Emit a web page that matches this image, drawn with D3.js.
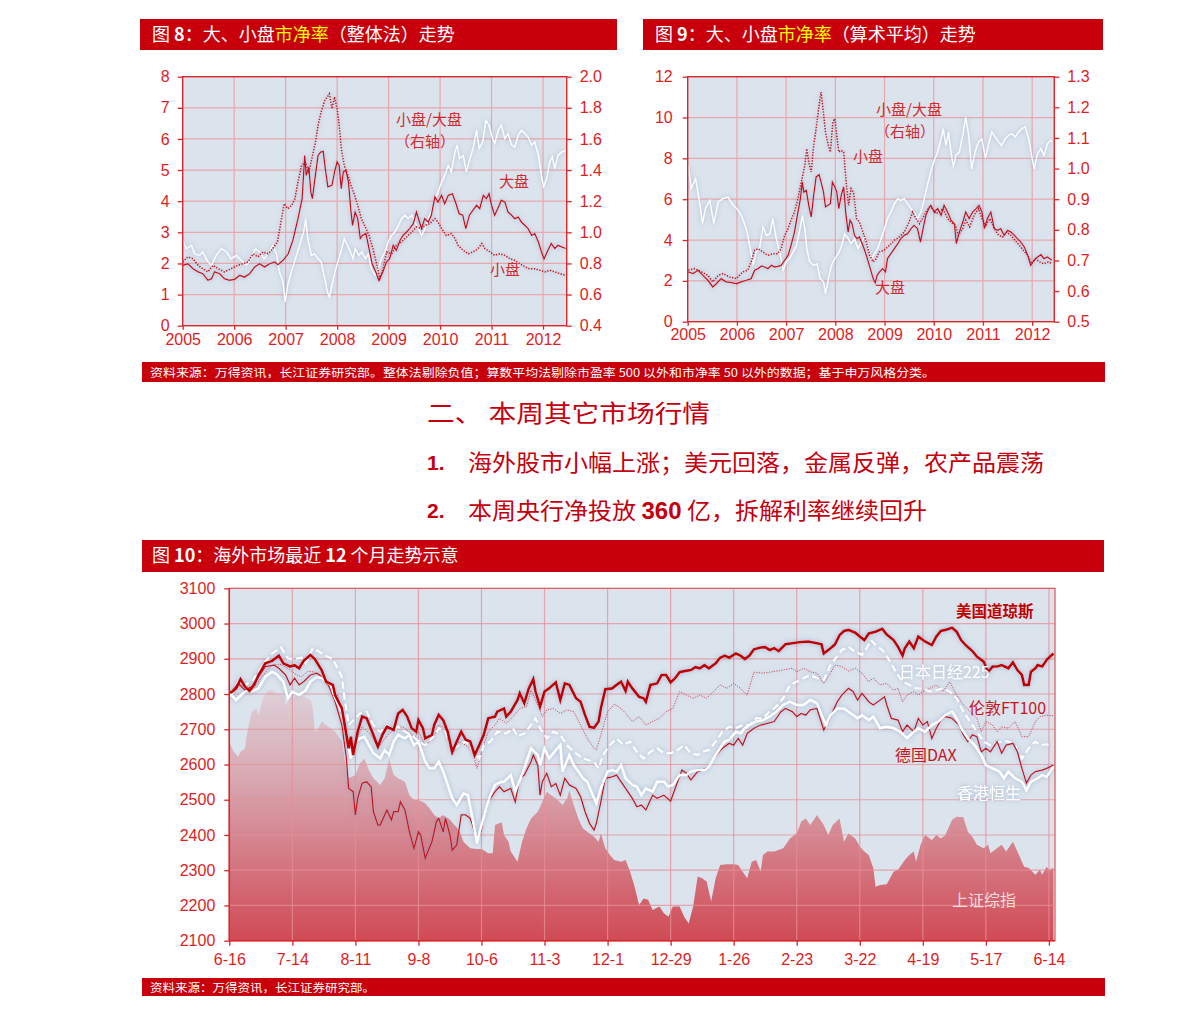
<!DOCTYPE html>
<html><head><meta charset="utf-8">
<script src="https://cdn.jsdelivr.net/npm/d3@7"></script>
<style>
html,body{margin:0;padding:0;background:#fff;}
svg{display:block;}
</style></head>
<body>
<div id="chart"></div>
<script>
// ================= DATA =================
const years = [2005, 2006, 2007, 2008, 2009, 2010, 2011, 2012];
const pbWholeLeftTicks = [0, 1, 2, 3, 4, 5, 6, 7, 8];
const pbWholeRightTicks = [0.4, 0.6, 0.8, 1.0, 1.2, 1.4, 1.6, 1.8, 2.0];
const pbMeanLeftTicks = [0, 2, 4, 6, 8, 10, 12];
const pbMeanRightTicks = [0.5, 0.6, 0.7, 0.8, 0.9, 1.0, 1.1, 1.2, 1.3];

// 图8 整体法: 大盘, 小盘 (左轴), 小盘/大盘 (右轴)
const pbWholeBig = [[2005.00,1.94],[2005.10,1.99],[2005.20,1.83],[2005.30,1.73],[2005.39,1.67],[2005.49,1.46],[2005.56,1.51],[2005.62,1.73],[2005.72,1.67],[2005.81,1.51],[2005.91,1.46],[2006.01,1.49],[2006.11,1.62],[2006.20,1.56],[2006.30,1.67],[2006.40,1.89],[2006.49,1.99],[2006.59,1.89],[2006.69,1.99],[2006.79,2.05],[2006.85,1.96],[2006.95,2.10],[2007.05,2.31],[2007.14,2.74],[2007.24,3.44],[2007.32,4.08],[2007.37,5.47],[2007.40,4.83],[2007.45,5.10],[2007.49,4.29],[2007.52,4.08],[2007.56,4.62],[2007.63,5.47],[2007.68,5.58],[2007.73,5.60],[2007.77,5.05],[2007.82,4.46],[2007.90,4.51],[2007.95,4.94],[2008.00,5.26],[2008.04,5.15],[2008.08,4.40],[2008.12,4.94],[2008.17,4.99],[2008.22,4.62],[2008.27,3.65],[2008.30,3.22],[2008.35,3.65],[2008.40,3.44],[2008.45,2.80],[2008.49,2.90],[2008.56,2.96],[2008.62,2.48],[2008.68,1.99],[2008.75,1.73],[2008.81,1.46],[2008.89,1.73],[2008.96,2.05],[2009.02,2.15],[2009.09,2.58],[2009.15,2.42],[2009.22,2.74],[2009.28,2.90],[2009.35,3.01],[2009.41,3.12],[2009.48,3.28],[2009.54,3.65],[2009.59,3.39],[2009.64,3.12],[2009.70,3.44],[2009.77,3.33],[2009.83,3.55],[2009.90,4.14],[2009.96,3.97],[2010.03,4.19],[2010.09,3.92],[2010.16,4.19],[2010.24,4.24],[2010.31,3.92],[2010.37,3.60],[2010.44,3.55],[2010.50,3.12],[2010.57,3.55],[2010.64,3.71],[2010.71,3.87],[2010.77,3.76],[2010.84,4.19],[2010.90,4.08],[2010.95,4.24],[2011.00,3.87],[2011.06,3.55],[2011.12,3.76],[2011.19,4.03],[2011.26,3.97],[2011.32,3.65],[2011.39,3.55],[2011.45,3.44],[2011.52,3.49],[2011.58,3.33],[2011.65,3.22],[2011.71,3.12],[2011.78,2.90],[2011.84,2.96],[2011.91,2.69],[2011.97,2.37],[2012.02,2.15],[2012.08,2.37],[2012.16,2.64],[2012.23,2.48],[2012.29,2.58],[2012.36,2.53],[2012.44,2.48]];
const pbWholeSmall = [[2005.00,2.05],[2005.10,2.21],[2005.20,2.15],[2005.30,1.94],[2005.39,1.83],[2005.49,1.73],[2005.59,1.94],[2005.69,1.83],[2005.81,1.73],[2005.94,1.83],[2006.07,1.94],[2006.17,1.99],[2006.27,2.05],[2006.37,2.31],[2006.46,2.21],[2006.56,2.37],[2006.66,2.31],[2006.75,2.48],[2006.84,2.69],[2006.92,3.44],[2006.97,3.92],[2007.04,3.76],[2007.12,3.87],[2007.18,4.08],[2007.24,4.62],[2007.31,5.15],[2007.38,5.26],[2007.45,4.94],[2007.51,5.37],[2007.58,5.90],[2007.63,6.44],[2007.69,6.87],[2007.76,7.24],[2007.81,7.35],[2007.85,7.45],[2007.90,6.97],[2007.95,7.35],[2008.00,6.97],[2008.04,6.44],[2008.09,5.58],[2008.14,5.15],[2008.21,4.83],[2008.27,4.51],[2008.34,4.19],[2008.40,3.87],[2008.47,3.44],[2008.54,3.20],[2008.62,2.90],[2008.70,2.45],[2008.78,1.90],[2008.83,1.51],[2008.89,1.83],[2008.96,2.37],[2009.06,2.31],[2009.15,2.58],[2009.25,2.69],[2009.35,2.85],[2009.45,3.01],[2009.54,3.17],[2009.64,3.12],[2009.70,3.22],[2009.80,3.28],[2009.90,3.44],[2009.96,3.33],[2010.03,3.12],[2010.12,2.90],[2010.22,2.96],[2010.29,2.80],[2010.35,2.58],[2010.45,2.42],[2010.55,2.31],[2010.64,2.37],[2010.74,2.48],[2010.81,2.64],[2010.87,2.48],[2010.97,2.37],[2011.06,2.26],[2011.16,2.31],[2011.26,2.26],[2011.36,2.15],[2011.45,2.10],[2011.55,1.99],[2011.65,1.89],[2011.74,1.83],[2011.84,1.83],[2011.94,1.78],[2012.04,1.73],[2012.13,1.78],[2012.23,1.73],[2012.33,1.67],[2012.44,1.62]];
const pbWholeRatio = [[2005.00,0.948],[2005.07,0.896],[2005.17,0.916],[2005.23,0.862],[2005.33,0.852],[2005.39,0.874],[2005.49,0.81],[2005.56,0.788],[2005.65,0.852],[2005.75,0.896],[2005.85,0.874],[2005.94,0.83],[2006.04,0.852],[2006.14,0.82],[2006.24,0.788],[2006.33,0.83],[2006.41,0.896],[2006.49,0.874],[2006.58,0.83],[2006.66,0.862],[2006.75,0.916],[2006.82,0.862],[2006.88,0.746],[2006.95,0.68],[2006.99,0.552],[2007.04,0.66],[2007.11,0.746],[2007.19,0.83],[2007.27,0.916],[2007.35,1.002],[2007.39,1.088],[2007.43,0.96],[2007.50,0.852],[2007.56,0.862],[2007.63,0.83],[2007.69,0.81],[2007.76,0.702],[2007.82,0.606],[2007.85,0.584],[2007.90,0.66],[2007.96,0.746],[2008.03,0.83],[2008.09,0.896],[2008.14,0.96],[2008.20,0.916],[2008.26,0.874],[2008.31,0.83],[2008.35,0.896],[2008.42,0.852],[2008.48,0.874],[2008.55,0.83],[2008.61,0.862],[2008.66,0.766],[2008.74,0.724],[2008.80,0.766],[2008.86,0.83],[2008.93,0.874],[2008.99,0.938],[2009.06,0.98],[2009.12,1.002],[2009.19,1.044],[2009.25,1.088],[2009.32,1.11],[2009.38,1.088],[2009.45,1.11],[2009.51,1.066],[2009.58,1.024],[2009.64,0.98],[2009.71,1.024],[2009.77,1.088],[2009.83,1.13],[2009.90,1.216],[2009.96,1.258],[2010.03,1.324],[2010.09,1.366],[2010.16,1.43],[2010.22,1.388],[2010.29,1.516],[2010.33,1.56],[2010.38,1.474],[2010.45,1.494],[2010.51,1.388],[2010.58,1.474],[2010.64,1.538],[2010.71,1.656],[2010.76,1.538],[2010.83,1.58],[2010.89,1.72],[2010.95,1.688],[2011.00,1.624],[2011.06,1.57],[2011.13,1.656],[2011.19,1.688],[2011.26,1.602],[2011.32,1.634],[2011.39,1.56],[2011.45,1.548],[2011.52,1.624],[2011.58,1.656],[2011.65,1.634],[2011.71,1.612],[2011.78,1.56],[2011.84,1.58],[2011.91,1.494],[2011.97,1.366],[2012.01,1.292],[2012.07,1.344],[2012.13,1.452],[2012.18,1.484],[2012.23,1.41],[2012.29,1.494],[2012.36,1.516],[2012.44,1.526]];

// 图9 算术平均: 大盘, 小盘 (左轴), 小盘/大盘 (右轴)
const pbMeanBig = [[2005.01,2.44],[2005.11,2.36],[2005.21,2.52],[2005.31,2.27],[2005.41,2.03],[2005.51,1.70],[2005.58,1.86],[2005.68,2.11],[2005.78,1.95],[2005.89,1.91],[2005.99,1.86],[2006.09,1.95],[2006.19,2.03],[2006.29,2.11],[2006.36,2.52],[2006.43,2.60],[2006.50,2.73],[2006.56,2.68],[2006.63,2.60],[2006.70,2.76],[2006.77,2.68],[2006.83,2.71],[2006.90,2.76],[2006.97,3.01],[2007.04,3.25],[2007.10,3.74],[2007.17,4.39],[2007.24,5.37],[2007.29,6.03],[2007.33,6.84],[2007.36,6.35],[2007.41,6.43],[2007.46,5.70],[2007.51,5.13],[2007.56,6.19],[2007.61,7.09],[2007.67,7.20],[2007.71,6.84],[2007.76,6.35],[2007.80,5.62],[2007.85,5.70],[2007.90,5.78],[2007.94,6.84],[2007.99,6.60],[2008.03,6.35],[2008.07,5.54],[2008.12,6.19],[2008.17,6.60],[2008.21,5.37],[2008.26,4.39],[2008.30,4.97],[2008.34,4.80],[2008.39,4.23],[2008.44,4.07],[2008.49,4.15],[2008.56,3.74],[2008.63,3.25],[2008.71,2.60],[2008.77,2.11],[2008.81,1.90],[2008.85,2.27],[2008.90,2.44],[2008.96,2.60],[2009.02,2.44],[2009.06,3.09],[2009.13,3.33],[2009.20,3.58],[2009.27,3.82],[2009.33,4.07],[2009.40,4.23],[2009.47,4.31],[2009.54,4.56],[2009.60,4.72],[2009.67,4.56],[2009.73,3.90],[2009.79,4.64],[2009.84,5.21],[2009.90,5.54],[2009.94,5.70],[2010.01,5.37],[2010.08,5.54],[2010.15,5.21],[2010.21,5.70],[2010.28,5.37],[2010.35,4.97],[2010.42,4.80],[2010.46,3.82],[2010.52,4.39],[2010.59,4.88],[2010.65,5.37],[2010.72,5.05],[2010.79,5.37],[2010.86,5.54],[2010.92,5.70],[2010.98,5.37],[2011.03,4.56],[2011.09,5.05],[2011.16,5.37],[2011.23,4.56],[2011.30,4.48],[2011.36,4.56],[2011.43,4.23],[2011.50,4.48],[2011.57,4.39],[2011.64,4.23],[2011.70,4.07],[2011.77,3.90],[2011.84,3.66],[2011.91,3.25],[2011.97,2.76],[2012.04,3.01],[2012.11,3.17],[2012.18,3.28],[2012.24,3.09],[2012.31,3.17],[2012.40,3.01]];
const pbMeanSmall = [[2005.01,2.52],[2005.14,2.60],[2005.28,2.44],[2005.41,2.27],[2005.51,1.95],[2005.62,2.27],[2005.72,2.36],[2005.85,2.19],[2005.99,2.11],[2006.12,2.44],[2006.22,2.52],[2006.29,2.93],[2006.36,3.50],[2006.43,3.58],[2006.53,3.41],[2006.63,3.25],[2006.73,3.33],[2006.83,3.33],[2006.90,3.58],[2006.97,4.23],[2007.04,4.56],[2007.10,4.97],[2007.17,5.37],[2007.24,6.03],[2007.31,6.84],[2007.38,7.66],[2007.42,8.47],[2007.46,7.82],[2007.51,7.33],[2007.56,8.64],[2007.61,9.45],[2007.67,10.6],[2007.71,11.25],[2007.75,10.43],[2007.80,9.29],[2007.85,8.72],[2007.90,8.31],[2007.95,9.78],[2007.99,9.94],[2008.03,9.13],[2008.07,8.31],[2008.12,8.39],[2008.17,8.31],[2008.22,6.84],[2008.27,5.70],[2008.32,6.52],[2008.37,6.35],[2008.43,5.05],[2008.49,4.88],[2008.56,4.39],[2008.63,3.90],[2008.70,3.25],[2008.77,2.93],[2008.82,3.05],[2008.89,3.41],[2008.99,3.50],[2009.10,3.74],[2009.20,3.99],[2009.30,4.15],[2009.40,4.39],[2009.50,4.88],[2009.57,5.37],[2009.64,5.05],[2009.71,4.80],[2009.77,5.05],[2009.84,5.37],[2009.91,5.62],[2009.98,5.54],[2010.04,5.29],[2010.11,5.37],[2010.19,5.54],[2010.28,5.05],[2010.35,4.88],[2010.44,4.72],[2010.50,4.23],[2010.59,4.56],[2010.65,4.97],[2010.73,4.64],[2010.82,5.21],[2010.91,5.54],[2010.98,5.05],[2011.06,4.72],[2011.14,5.05],[2011.23,4.56],[2011.32,4.23],[2011.40,4.15],[2011.48,4.39],[2011.57,4.23],[2011.65,3.99],[2011.74,3.74],[2011.82,3.50],[2011.91,3.25],[2011.99,2.84],[2012.07,3.09],[2012.15,2.93],[2012.24,2.84],[2012.33,2.93],[2012.40,2.84]];
const pbMeanRatio = [[2005.01,1.011],[2005.07,0.935],[2005.16,0.967],[2005.24,0.891],[2005.30,0.82],[2005.36,0.869],[2005.45,0.896],[2005.53,0.82],[2005.62,0.891],[2005.72,0.902],[2005.82,0.907],[2005.92,0.88],[2006.00,0.869],[2006.09,0.847],[2006.19,0.804],[2006.26,0.749],[2006.33,0.684],[2006.39,0.727],[2006.46,0.739],[2006.53,0.809],[2006.60,0.782],[2006.67,0.787],[2006.73,0.837],[2006.80,0.771],[2006.87,0.727],[2006.94,0.668],[2007.00,0.695],[2007.07,0.706],[2007.14,0.727],[2007.21,0.749],[2007.27,0.793],[2007.33,0.847],[2007.38,0.804],[2007.42,0.739],[2007.48,0.695],[2007.56,0.684],[2007.63,0.689],[2007.69,0.641],[2007.76,0.63],[2007.80,0.592],[2007.86,0.641],[2007.92,0.684],[2007.99,0.706],[2008.06,0.722],[2008.13,0.749],[2008.19,0.787],[2008.26,0.771],[2008.32,0.755],[2008.39,0.771],[2008.46,0.739],[2008.53,0.76],[2008.59,0.777],[2008.66,0.749],[2008.73,0.706],[2008.79,0.72],[2008.86,0.739],[2008.93,0.771],[2009.00,0.804],[2009.06,0.837],[2009.13,0.858],[2009.20,0.885],[2009.27,0.902],[2009.33,0.896],[2009.40,0.902],[2009.47,0.885],[2009.54,0.869],[2009.60,0.858],[2009.67,0.837],[2009.74,0.858],[2009.81,0.902],[2009.87,0.945],[2009.94,0.989],[2010.01,1.027],[2010.08,1.054],[2010.15,1.097],[2010.19,1.13],[2010.25,1.076],[2010.30,1.119],[2010.35,1.054],[2010.40,1.005],[2010.45,1.043],[2010.52,1.054],[2010.59,1.109],[2010.65,1.168],[2010.71,1.109],[2010.77,0.999],[2010.84,1.054],[2010.91,1.087],[2010.98,1.097],[2011.05,1.033],[2011.11,1.076],[2011.18,1.119],[2011.25,1.103],[2011.32,1.087],[2011.38,1.076],[2011.45,1.097],[2011.52,1.109],[2011.59,1.114],[2011.66,1.103],[2011.72,1.119],[2011.79,1.13],[2011.86,1.136],[2011.93,1.097],[2011.99,1.043],[2012.04,0.999],[2012.11,1.049],[2012.18,1.065],[2012.24,1.043],[2012.31,1.081],[2012.38,1.092],[2012.41,1.087]];

// 图10: 海外市场 (示意, 天数自 6-16 起)
const dayTickLabels = ["6-16","7-14","8-11","9-8","10-6","11-3","12-1","12-29","1-26","2-23","3-22","4-19","5-17","6-14"];
const overseasTicks = [2100, 2200, 2300, 2400, 2500, 2600, 2700, 2800, 2900, 3000, 3100];
const dowJones = [[0,2805],[1,2805],[3,2816],[5,2842],[7,2821],[9,2809],[11,2826],[13,2854],[16,2887],[19,2894],[22,2909],[24,2887],[27,2878],[29,2882],[31,2873],[33,2894],[36,2911],[38,2899],[41,2868],[43,2835],[46,2826],[47,2797],[50,2759],[51,2722],[53,2646],[54,2679],[55,2627],[57,2693],[59,2736],[61,2731],[64,2684],[66,2651],[68,2684],[70,2707],[73,2698],[75,2745],[77,2755],[79,2736],[81,2703],[83,2693],[84,2726],[86,2703],[87,2674],[90,2684],[91,2712],[93,2741],[95,2726],[97,2693],[99,2636],[101,2665],[103,2693],[105,2670],[107,2665],[109,2627],[111,2655],[113,2684],[115,2731],[118,2736],[119,2750],[122,2759],[123,2736],[125,2750],[128,2783],[129,2802],[131,2774],[133,2816],[135,2842],[136,2807],[138,2764],[140,2807],[142,2816],[145,2833],[147,2783],[149,2830],[151,2826],[154,2788],[156,2778],[158,2740],[160,2707],[162,2704],[164,2722],[165,2759],[167,2814],[170,2816],[172,2826],[174,2835],[176,2809],[177,2835],[179,2816],[182,2792],[184,2788],[185,2778],[187,2826],[190,2830],[192,2854],[194,2854],[196,2833],[198,2845],[200,2862],[202,2865],[205,2868],[207,2876],[209,2873],[211,2882],[213,2873],[216,2887],[218,2903],[220,2909],[222,2903],[225,2915],[227,2909],[229,2899],[231,2909],[233,2927],[236,2932],[238,2933],[240,2925],[242,2930],[244,2922],[247,2941],[250,2944],[253,2947],[257,2949],[261,2944],[263,2941],[264,2915],[267,2930],[269,2941],[271,2967],[273,2979],[275,2982],[278,2974],[280,2963],[282,2953],[284,2972],[287,2977],[290,2985],[292,2969],[295,2953],[297,2934],[299,2909],[300,2930],[302,2949],[304,2930],[306,2963],[309,2949],[312,2939],[314,2963],[316,2979],[318,2982],[321,2988],[323,2977],[325,2953],[327,2939],[330,2922],[332,2906],[335,2892],[337,2863],[339,2878],[341,2878],[343,2882],[346,2873],[348,2890],[350,2868],[352,2854],[353,2826],[355,2826],[356,2863],[358,2873],[359,2882],[361,2878],[362,2887],[363,2897],[366,2915]];
const ftse100 = [[0,2805],[1,2805],[5,2826],[10,2809],[15,2854],[19,2882],[23,2884],[27,2868],[30,2854],[32,2849],[35,2865],[38,2862],[41,2849],[44,2821],[48,2797],[50,2750],[53,2665],[55,2636],[57,2679],[59,2707],[63,2684],[66,2646],[68,2665],[71,2688],[74,2703],[77,2707],[80,2693],[82,2674],[84,2693],[87,2655],[90,2670],[93,2712],[96,2703],[99,2627],[102,2665],[105,2655],[108,2636],[110,2589],[112,2636],[115,2693],[118,2712],[120,2731],[123,2717],[126,2736],[129,2759],[132,2764],[134,2811],[137,2769],[139,2736],[141,2755],[144,2759],[147,2745],[150,2755],[153,2750],[156,2712],[159,2674],[162,2646],[163,2641],[165,2684],[168,2750],[171,2771],[174,2759],[176,2745],[179,2722],[182,2736],[185,2712],[188,2722],[191,2731],[194,2750],[197,2759],[200,2807],[203,2797],[206,2788],[209,2797],[212,2788],[215,2807],[218,2826],[221,2816],[224,2830],[227,2816],[230,2797],[233,2862],[237,2859],[241,2863],[246,2868],[250,2873],[252,2863],[255,2873],[258,2863],[261,2859],[264,2830],[267,2859],[269,2882],[272,2878],[275,2865],[278,2873],[281,2859],[284,2835],[286,2845],[289,2826],[292,2830],[295,2811],[297,2816],[299,2778],[301,2797],[304,2807],[306,2797],[308,2807],[311,2816],[314,2826],[317,2807],[320,2835],[323,2797],[326,2769],[329,2750],[332,2731],[334,2693],[336,2722],[339,2712],[341,2693],[343,2707],[346,2703],[349,2722],[352,2679],[355,2679],[358,2722],[360,2736],[363,2740],[366,2738]];
const nikkei225 = [[0,2797],[1,2797],[4,2835],[7,2826],[10,2835],[13,2863],[16,2892],[19,2915],[23,2932],[26,2901],[29,2899],[32,2903],[34,2887],[37,2930],[40,2920],[42,2911],[46,2899],[50,2849],[51,2797],[53,2712],[56,2731],[58,2745],[61,2750],[64,2712],[67,2693],[70,2712],[73,2698],[75,2707],[78,2693],[81,2684],[84,2665],[87,2655],[90,2674],[93,2703],[96,2693],[99,2641],[102,2655],[105,2665],[108,2641],[111,2617],[113,2655],[116,2665],[119,2693],[123,2688],[126,2703],[128,2679],[131,2688],[134,2712],[136,2731],[138,2703],[141,2674],[144,2693],[147,2684],[150,2655],[153,2636],[156,2622],[159,2613],[162,2608],[164,2589],[166,2627],[169,2655],[172,2674],[175,2655],[178,2665],[181,2636],[184,2617],[187,2636],[190,2646],[193,2632],[196,2632],[199,2641],[202,2655],[205,2632],[208,2627],[210,2636],[213,2641],[216,2665],[219,2693],[222,2707],[225,2703],[228,2712],[231,2712],[234,2731],[237,2731],[240,2750],[243,2765],[246,2788],[249,2826],[252,2835],[255,2845],[258,2854],[261,2845],[264,2840],[267,2882],[269,2899],[272,2925],[275,2934],[278,2920],[281,2911],[283,2930],[285,2953],[287,2939],[290,2925],[293,2897],[296,2863],[299,2835],[302,2826],[305,2816],[308,2816],[311,2807],[314,2811],[317,2816],[320,2807],[323,2788],[326,2750],[329,2722],[332,2693],[335,2665],[338,2655],[340,2660],[343,2665],[346,2665],[349,2655],[352,2617],[355,2646],[358,2665],[360,2655],[363,2657],[366,2657]];
const dax = [[0,2807],[1,2807],[4,2830],[7,2811],[10,2821],[13,2849],[16,2878],[20,2882],[22,2873],[25,2854],[27,2826],[29,2845],[31,2826],[33,2835],[36,2854],[39,2859],[41,2849],[44,2826],[47,2778],[50,2712],[52,2617],[53,2532],[55,2523],[56,2457],[57,2504],[59,2547],[61,2551],[63,2537],[64,2466],[66,2428],[67,2428],[70,2471],[72,2443],[73,2466],[75,2466],[76,2494],[78,2471],[80,2409],[82,2362],[84,2409],[85,2400],[87,2334],[90,2381],[92,2438],[93,2447],[95,2409],[96,2447],[98,2400],[99,2357],[101,2372],[103,2457],[105,2457],[107,2447],[108,2428],[110,2381],[112,2414],[113,2457],[115,2494],[118,2523],[120,2537],[122,2523],[125,2532],[127,2494],[129,2561],[131,2570],[134,2608],[135,2627],[137,2598],[138,2513],[139,2551],[141,2575],[143,2537],[145,2546],[147,2513],[149,2561],[151,2542],[154,2532],[156,2509],[158,2466],[160,2433],[162,2414],[163,2433],[165,2494],[167,2561],[170,2565],[172,2570],[174,2551],[176,2532],[179,2504],[181,2480],[183,2485],[185,2471],[188,2513],[190,2504],[193,2513],[196,2496],[198,2532],[201,2584],[203,2575],[205,2556],[208,2580],[210,2584],[213,2594],[215,2617],[217,2632],[219,2646],[222,2660],[224,2655],[226,2674],[228,2655],[230,2688],[233,2703],[236,2712],[239,2717],[242,2722],[245,2750],[247,2759],[250,2750],[252,2736],[254,2745],[256,2740],[258,2755],[261,2759],[264,2698],[266,2722],[268,2750],[270,2778],[272,2797],[275,2816],[277,2807],[279,2783],[281,2802],[284,2778],[286,2769],[288,2778],[291,2792],[292,2769],[294,2731],[297,2726],[299,2693],[301,2712],[304,2693],[306,2731],[308,2712],[310,2722],[312,2674],[314,2703],[316,2726],[318,2736],[321,2731],[324,2712],[326,2684],[328,2665],[330,2684],[332,2679],[334,2636],[336,2646],[338,2636],[341,2665],[343,2632],[345,2655],[348,2660],[350,2636],[352,2589],[354,2547],[356,2570],[358,2580],[361,2584],[363,2589],[366,2598]];
const hangSeng = [[0,2797],[1,2797],[3,2783],[6,2802],[8,2811],[10,2807],[13,2816],[16,2849],[19,2863],[21,2856],[24,2835],[26,2788],[28,2807],[31,2797],[34,2811],[36,2835],[39,2849],[41,2845],[43,2835],[45,2826],[47,2788],[50,2750],[52,2684],[54,2617],[56,2665],[58,2674],[60,2679],[62,2655],[64,2632],[67,2617],[69,2641],[71,2627],[73,2665],[75,2684],[78,2674],[80,2684],[82,2655],[84,2665],[87,2608],[89,2589],[91,2589],[93,2608],[95,2580],[97,2542],[99,2504],[101,2485],[104,2518],[106,2513],[108,2447],[110,2376],[112,2428],[114,2475],[116,2513],[118,2542],[121,2551],[122,2551],[125,2570],[127,2523],[129,2556],[131,2589],[134,2646],[137,2627],[138,2598],[140,2646],[142,2617],[145,2641],[147,2655],[148,2580],[151,2627],[153,2598],[155,2580],[157,2561],[159,2551],[162,2504],[163,2490],[165,2532],[168,2580],[170,2584],[172,2580],[174,2598],[176,2561],[179,2542],[181,2537],[183,2513],[185,2532],[188,2523],[190,2551],[193,2551],[195,2537],[197,2542],[200,2570],[203,2570],[205,2580],[208,2584],[211,2584],[213,2594],[216,2627],[218,2646],[220,2665],[222,2670],[225,2693],[227,2688],[229,2703],[231,2712],[234,2722],[237,2726],[240,2736],[243,2750],[246,2769],[249,2778],[252,2769],[255,2769],[258,2783],[261,2774],[263,2740],[265,2712],[267,2740],[270,2759],[273,2759],[276,2745],[279,2731],[281,2740],[284,2726],[286,2736],[289,2703],[292,2707],[295,2703],[298,2693],[301,2674],[304,2693],[306,2703],[309,2693],[312,2712],[315,2722],[318,2740],[321,2750],[323,2731],[325,2703],[328,2674],[331,2655],[334,2627],[336,2598],[339,2589],[342,2580],[344,2561],[346,2580],[349,2561],[352,2551],[354,2527],[356,2551],[359,2561],[361,2570],[363,2565],[366,2594]];
const shComposite = [[0,2665],[2,2636],[4,2622],[5,2636],[7,2646],[8,2693],[10,2750],[12,2759],[13,2740],[15,2788],[17,2811],[19,2811],[21,2802],[24,2797],[25,2769],[27,2788],[29,2792],[31,2797],[33,2792],[36,2783],[37,2764],[38,2693],[40,2707],[41,2722],[43,2712],[45,2703],[47,2693],[50,2665],[52,2584],[53,2561],[56,2570],[58,2603],[60,2617],[62,2584],[64,2561],[67,2542],[69,2561],[71,2617],[73,2570],[75,2561],[78,2551],[80,2513],[82,2499],[84,2499],[87,2490],[89,2475],[91,2457],[93,2447],[95,2457],[98,2443],[100,2428],[102,2414],[104,2381],[107,2362],[110,2360],[112,2360],[115,2348],[117,2348],[118,2428],[121,2436],[122,2400],[124,2381],[125,2353],[128,2324],[130,2381],[132,2419],[134,2447],[137,2466],[139,2494],[141,2523],[143,2513],[145,2504],[148,2485],[150,2504],[151,2527],[153,2485],[155,2447],[157,2419],[159,2409],[162,2395],[164,2381],[165,2404],[167,2362],[169,2343],[171,2329],[174,2324],[176,2329],[178,2296],[180,2253],[182,2201],[184,2220],[186,2216],[188,2187],[191,2197],[193,2178],[195,2168],[197,2197],[200,2197],[202,2168],[204,2149],[206,2197],[208,2282],[210,2277],[212,2268],[214,2211],[216,2277],[218,2315],[221,2317],[224,2317],[226,2315],[228,2296],[230,2277],[232,2324],[234,2329],[236,2296],[237,2343],[239,2353],[242,2353],[246,2362],[249,2390],[252,2404],[254,2438],[256,2447],[258,2428],[261,2457],[264,2428],[266,2400],[268,2428],[271,2447],[273,2381],[275,2404],[278,2390],[280,2367],[282,2353],[284,2343],[286,2306],[287,2253],[289,2258],[292,2260],[295,2296],[297,2301],[300,2329],[302,2343],[304,2353],[305,2324],[307,2372],[309,2400],[312,2386],[314,2400],[316,2390],[318,2400],[321,2443],[323,2452],[326,2450],[328,2409],[330,2395],[332,2372],[335,2362],[337,2372],[338,2348],[341,2362],[343,2372],[345,2353],[348,2381],[350,2353],[353,2310],[355,2306],[358,2287],[360,2301],[361,2287],[363,2310],[364,2301],[366,2306]];

// ================= DRAW =================
const W = 1191, H = 1015;
const RED = "#c8000b", AX = "#d8262c", TXT = "#dc1e24", GRID = "#eaa7ad", BG = "#dbe3ed";
const NUM = "'Liberation Sans', Arial, sans-serif";
const CJK = "'Noto Sans CJK SC', 'Noto Sans', sans-serif";

const svg = d3.select("#chart").append("svg").attr("width", W).attr("height", H);
const defs = svg.append("defs");
const glow = defs.append("filter").attr("id", "glow").attr("filterUnits", "userSpaceOnUse")
  .attr("x", 0).attr("y", 0).attr("width", W).attr("height", H);
glow.append("feGaussianBlur").attr("in", "SourceAlpha").attr("stdDeviation", 2.4).attr("result", "b");
glow.append("feFlood").attr("flood-color", "#7393ba").attr("flood-opacity", 0.6);
glow.append("feComposite").attr("in2", "b").attr("operator", "in").attr("result", "s");
const gm = glow.append("feMerge");
gm.append("feMergeNode").attr("in", "s");
gm.append("feMergeNode").attr("in", "SourceGraphic");

const grad = defs.append("linearGradient").attr("id", "areaGrad")
  .attr("gradientUnits", "userSpaceOnUse").attr("x1", 0).attr("x2", 0).attr("y1", 690).attr("y2", 941);
grad.append("stop").attr("offset", "0%").attr("stop-color", "#ded0d8");
grad.append("stop").attr("offset", "35%").attr("stop-color", "#d8a8b2");
grad.append("stop").attr("offset", "100%").attr("stop-color", "#d04a55");

function titleBar(x, y, w, h, parts, tx, fs) {
  svg.append("rect").attr("x", x).attr("y", y).attr("width", w).attr("height", h).attr("fill", RED);
  const t = svg.append("text").attr("x", tx).attr("y", y + h / 2 + fs * 0.36)
    .attr("font-family", CJK).attr("font-size", fs);
  parts.forEach(p => t.append("tspan").attr("fill", p[1]).attr("font-weight", p[2] || "normal").text(p[0]));
}

function styleAxis(g) {
  g.select(".domain").remove();
  g.selectAll(".tick line").attr("stroke", AX).attr("stroke-width", 1.3);
  g.selectAll(".tick text").attr("fill", TXT).attr("font-family", NUM).attr("font-size", 16);
}

function topChart(cfg) {
  const x = d3.scaleLinear().domain(cfg.xDom).range([cfg.x0, cfg.x1]);
  const yL = d3.scaleLinear().domain(cfg.lDom).range([cfg.y1, cfg.y0]);
  const yR = d3.scaleLinear().domain(cfg.rDom).range([cfg.y1, cfg.y0]);
  const g = svg.append("g");
  g.append("rect").attr("x", cfg.x0).attr("y", cfg.y0).attr("width", cfg.x1 - cfg.x0)
    .attr("height", cfg.y1 - cfg.y0).attr("fill", BG);
  const grid = g.append("g").attr("stroke", GRID).attr("stroke-width", 1.2);
  years.slice(1).forEach(yv => grid.append("line").attr("x1", x(yv)).attr("x2", x(yv))
    .attr("y1", cfg.y0).attr("y2", cfg.y1));
  cfg.lTicks.slice(1, -1).forEach(v => grid.append("line").attr("x1", cfg.x0).attr("x2", cfg.x1)
    .attr("y1", yL(v)).attr("y2", yL(v)));
  const cid = "clip" + cfg.id;
  defs.append("clipPath").attr("id", cid).append("rect").attr("x", cfg.x0).attr("y", cfg.y0)
    .attr("width", cfg.x1 - cfg.x0).attr("height", cfg.y1 - cfg.y0);
  const lines = g.append("g").attr("clip-path", `url(#${cid})`).append("g").attr("filter", "url(#glow)");
  const lineL = d3.line().x(d => x(d[0])).y(d => yL(d[1]));
  const lineR = d3.line().x(d => x(d[0])).y(d => yR(d[1]));
  lines.append("path").attr("d", lineR(cfg.ratio)).attr("fill", "none").attr("stroke", "#ffffff").attr("stroke-width", 1.3);
  lines.append("path").attr("d", lineL(cfg.small)).attr("fill", "none").attr("stroke", "#c8141c")
    .attr("stroke-width", 1.6).attr("stroke-dasharray", "1.4,1.4");
  lines.append("path").attr("d", lineL(cfg.big)).attr("fill", "none").attr("stroke", "#c8101a").attr("stroke-width", 1.3);
  g.append("rect").attr("x", cfg.x0).attr("y", cfg.y0).attr("width", cfg.x1 - cfg.x0)
    .attr("height", cfg.y1 - cfg.y0).attr("fill", "none").attr("stroke", AX).attr("stroke-width", 1.4);
  const ax1 = g.append("g").attr("transform", `translate(${cfg.x0},0)`)
    .call(d3.axisLeft(yL).tickValues(cfg.lTicks).tickSize(5).tickPadding(cfg.lPad).tickFormat(d3.format("d")));
  styleAxis(ax1);
  const ax2 = g.append("g").attr("transform", `translate(${cfg.x1},0)`)
    .call(d3.axisRight(yR).tickValues(cfg.rTicks).tickSize(5).tickPadding(cfg.rPad).tickFormat(d3.format(".1f")));
  styleAxis(ax2);
  const ax3 = g.append("g").attr("transform", `translate(0,${cfg.y1})`)
    .call(d3.axisBottom(x).tickValues(years).tickSize(4).tickPadding(cfg.bPad).tickFormat(d3.format("d")));
  styleAxis(ax3);
  cfg.labels.forEach(l => g.append("text").attr("x", l[1]).attr("y", l[2]).attr("text-anchor", "middle")
    .attr("font-family", CJK).attr("font-size", 15).attr("fill", "#cf2a30").text(l[0]));
}

// ---- Figure 8 & 9 ----
titleBar(140, 19, 477, 31, [["图 ", "#fff"], ["8", "#fff", "bold"], ["：大、小盘", "#fff"], ["市净率", "#ffff00"], ["（整体法）走势", "#fff"]], 152, 18);
titleBar(643, 19, 460, 31, [["图 ", "#fff"], ["9", "#fff", "bold"], ["：大、小盘", "#fff"], ["市净率", "#ffff00"], ["（算术平均）走势", "#fff"]], 655, 18);

topChart({ id: "a", x0: 182.7, x1: 566.7, y0: 76.7, y1: 325.7, xDom: [2005, 2012.46],
  lDom: [0, 8], rDom: [0.4, 2.0], lTicks: pbWholeLeftTicks, rTicks: pbWholeRightTicks, lPad: 8, rPad: 8, bPad: 4,
  big: pbWholeBig, small: pbWholeSmall, ratio: pbWholeRatio,
  labels: [["小盘/大盘", 429, 125], ["（右轴）", 425, 147], ["大盘", 514, 187], ["小盘", 505, 275]] });

topChart({ id: "b", x0: 687.7, x1: 1054.3, y0: 76.7, y1: 321.7, xDom: [2005, 2012.45],
  lDom: [0, 12], rDom: [0.5, 1.3], lTicks: pbMeanLeftTicks, rTicks: pbMeanRightTicks, lPad: 10, rPad: 8, bPad: 3,
  big: pbMeanBig, small: pbMeanSmall, ratio: pbMeanRatio,
  labels: [["小盘/大盘", 909, 115], ["（右轴）", 905, 137], ["小盘", 868, 162], ["大盘", 890, 293]] });

// footnote 1
svg.append("rect").attr("x", 142).attr("y", 362).attr("width", 963).attr("height", 20).attr("fill", RED);
svg.append("text").attr("x", 150).attr("y", 376.5).attr("font-family", CJK).attr("font-size", 11.5)
  .attr("fill", "#fff").attr("textLength", 785).attr("lengthAdjust", "spacingAndGlyphs")
  .text("资料来源：万得资讯，长江证券研究部。整体法剔除负值；算数平均法剔除市盈率 500 以外和市净率 50 以外的数据；基于申万风格分类。");

// headings
const HC = "#c4000e";
svg.append("text").attr("x", 427).attr("y", 422).attr("font-family", CJK).attr("font-size", 24)
  .attr("fill", HC).attr("textLength", 283).attr("lengthAdjust", "spacingAndGlyphs").text("二、 本周其它市场行情");
svg.append("text").attr("x", 427).attr("y", 470).attr("font-family", NUM).attr("font-weight", "bold")
  .attr("font-size", 21).attr("fill", HC).text("1.");
svg.append("text").attr("x", 468).attr("y", 471).attr("font-family", CJK).attr("font-size", 23)
  .attr("fill", HC).attr("textLength", 576).attr("lengthAdjust", "spacingAndGlyphs")
  .text("海外股市小幅上涨；美元回落，金属反弹，农产品震荡");
svg.append("text").attr("x", 427).attr("y", 518).attr("font-family", NUM).attr("font-weight", "bold")
  .attr("font-size", 21).attr("fill", HC).text("2.");
const t2 = svg.append("text").attr("x", 468).attr("y", 519).attr("font-family", CJK).attr("font-size", 23)
  .attr("fill", HC).attr("textLength", 459).attr("lengthAdjust", "spacingAndGlyphs");
t2.append("tspan").text("本周央行净投放 ");
t2.append("tspan").attr("font-family", NUM).attr("font-weight", "bold").text("360");
t2.append("tspan").text(" 亿，拆解利率继续回升");

// ---- Figure 10 ----
titleBar(142, 540, 962, 32, [["图 ", "#fff"], ["10", "#fff", "bold"], ["：海外市场最近 ", "#fff"], ["12", "#fff", "bold"], [" 个月走势示意", "#fff"]], 152, 18);

(function () {
  const x0 = 229.3, x1 = 1055, y0 = 588.3, y1 = 940.7;
  const x = d3.scaleLinear().domain([0, 366.7]).range([x0, x1]);
  const y = d3.scaleLinear().domain([2100, 3100]).range([y1, y0]);
  const g = svg.append("g");
  g.append("rect").attr("x", x0).attr("y", y0).attr("width", x1 - x0).attr("height", y1 - y0).attr("fill", BG);
  defs.append("clipPath").attr("id", "clipc").append("rect").attr("x", x0).attr("y", y0)
    .attr("width", x1 - x0).attr("height", y1 - y0);
  const inner = g.append("g").attr("clip-path", "url(#clipc)");
  const area = d3.area().x(d => x(d[0])).y0(y(2100)).y1(d => y(d[1]));
  inner.append("path").attr("d", area(shComposite)).attr("fill", "url(#areaGrad)");
  const grid = inner.append("g").attr("stroke", "#e58f97").attr("stroke-opacity", 0.75).attr("stroke-width", 1.2);
  const dayTicks = dayTickLabels.map((_, i) => i * 28);
  dayTicks.slice(1).forEach(d => grid.append("line").attr("x1", x(d)).attr("x2", x(d)).attr("y1", y0).attr("y2", y1));
  overseasTicks.slice(1, -1).forEach(v => grid.append("line").attr("x1", x0).attr("x2", x1).attr("y1", y(v)).attr("y2", y(v)));
  const lines = inner.append("g").attr("filter", "url(#glow)");
  const line = d3.line().x(d => x(d[0])).y(d => y(d[1]));
  lines.append("path").attr("d", line(ftse100)).attr("fill", "none").attr("stroke", "#c8303a")
    .attr("stroke-opacity", 0.85).attr("stroke-width", 1).attr("stroke-dasharray", "1.2,1.3");
  lines.append("path").attr("d", line(nikkei225)).attr("fill", "none").attr("stroke", "#ffffff")
    .attr("stroke-width", 2).attr("stroke-dasharray", "7,4");
  lines.append("path").attr("d", line(dax)).attr("fill", "none").attr("stroke", "#c4161e").attr("stroke-width", 1.3);
  lines.append("path").attr("d", line(hangSeng)).attr("fill", "none").attr("stroke", "#ffffff").attr("stroke-width", 2.4);
  lines.append("path").attr("d", line(dowJones)).attr("fill", "none").attr("stroke", "#c00000").attr("stroke-width", 2.6);
  g.append("rect").attr("x", x0).attr("y", y0).attr("width", x1 - x0).attr("height", y1 - y0)
    .attr("fill", "none").attr("stroke", "#e05058").attr("stroke-width", 1.2);
  g.append("line").attr("x1", x0).attr("x2", x0).attr("y1", y0).attr("y2", y1).attr("stroke", AX).attr("stroke-width", 1.5);
  g.append("line").attr("x1", x0).attr("x2", x1).attr("y1", y1).attr("y2", y1).attr("stroke", AX).attr("stroke-width", 1.5);
  const ay = g.append("g").attr("transform", `translate(${x0},0)`)
    .call(d3.axisLeft(y).tickValues(overseasTicks).tickSize(5).tickPadding(9).tickFormat(d3.format("d")));
  styleAxis(ay);
  const axb = g.append("g").attr("transform", `translate(0,${y1})`)
    .call(d3.axisBottom(x).tickValues(dayTicks).tickSize(5).tickPadding(8).tickFormat((d, i) => dayTickLabels[i]));
  styleAxis(axb);
  const lab = (t, lx, ly, fill, opt = {}) => {
    const e = g.append("text").attr("x", lx).attr("y", ly).attr("font-family", CJK).attr("font-size", opt.fs || 16)
      .attr("fill", fill).attr("font-weight", opt.bold ? "bold" : "normal").text(t);
    if (opt.glow) e.attr("filter", "url(#glow)");
  };
  lab("美国道琼斯", 956, 617, "#c00000", { bold: true, fs: 15.5 });
  lab("日本日经225", 899, 678, "#ffffff", { glow: true });
  lab("伦敦FT100", 969, 714, "#c8141e");
  lab("德国DAX", 895, 761, "#c8141e");
  lab("香港恒生", 957, 799, "#ffffff", { glow: true });
  lab("上证综指", 952, 906, "#f4dede");
})();

svg.append("rect").attr("x", 142).attr("y", 978).attr("width", 963).attr("height", 18).attr("fill", RED);
svg.append("text").attr("x", 150).attr("y", 991.5).attr("font-family", CJK).attr("font-size", 11.5)
  .attr("fill", "#fff").attr("textLength", 225).attr("lengthAdjust", "spacingAndGlyphs")
  .text("资料来源：万得资讯，长江证券研究部。");
</script>
</body></html>
